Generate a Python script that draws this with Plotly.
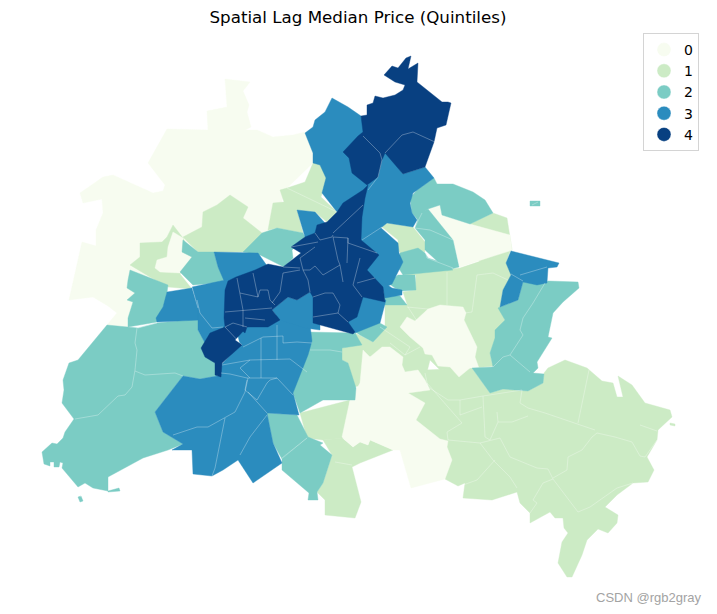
import plotly.graph_objects as go

# map outlines in picture units
# class 0 west goes first because everything else sits on top of it
WEST_ZONES = [
    [(225,79),(250,82),(243,91),(249,105),(247,112),(251,127),(245,130),(257,130),(273,137),(293,135),(305,132),
     (313,150),(313,163),(287,188),(270,232),(200,255),(135,290),(128,327),(107,325),(117,313),(108,306),(93,297),(69,300),
     (82,242),(96,246),(96,230),(103,213),(102,199),(83,203),(80,193),(103,177),(113,175),(153,193),(163,191),(165,185),
     (148,163),(167,129),(208,130),(207,111),(227,107)],
]
CLASS1_ZONES = [
    [(130,265),(140,257),(140,243),(162,242),(167,237),(173,225),(183,238),(192,257),(180,274),(192,289),(168,287),(150,277)],
    [(183,237),(202,227),(203,212),(217,205),(230,195),(248,207),(243,218),(262,233),(245,252),(198,252)],
    [(280,190),(287,188),(305,182),(313,163),(320,163),(327,178),(321,197),(337,212),(327,222),(315,212),(297,210),
     (303,233),(277,228),(268,230),(273,203),(284,202)],
    [(470,224),(493,213),(507,218),(512,250),(480,262),(460,240)],
    [(382,227),(387,223),(413,227),(425,242),(425,252),(417,250),(403,256),(398,250),(398,240)],
    # north-east block
    [(403,275),(460,268),(510,251),(506,263),(511,273),(510,278),(503,290),(500,307),(505,320),(495,332),(495,340),(490,353),
     (492,363),(495,366),(472,368),(440,370),(420,350),(408,307),(403,292),(415,290),(416,275)],
    # centre pieces
    [(385,303),(407,305),(428,309),(430,360),(425,380),(430,392),(408,393),(395,400),(378,355),(368,357),(360,348),(355,333),
     (373,342),(385,328)],
    [(342,348),(358,343),(366,350),(365,385),(353,387),(348,363),(342,360)],
    [(300,413),(350,400),(345,438),(323,440),(307,438)],
    [(332,455),(323,440),(342,438),(353,447),(360,442),(368,445),(370,440),(377,443),(393,450),(360,463),(352,467),(361,502),(355,518),
     (325,515),(325,500),(317,492),(323,483)],
    # south-east
    [(472,368),(490,393),(503,389),(528,391),(543,383),(544,373),(548,368),(565,360),(587,368),(602,381),(613,383),(617,397),
     (623,397),(618,376),(632,385),(645,403),(670,410),(672,417),(658,430),(657,440),(647,457),(654,470),(648,482),(633,483),
     (617,495),(605,507),(618,515),(617,523),(608,533),(598,529),(587,540),(582,555),(572,577),(567,577),(558,563),(562,542),
     (568,533),(564,528),(563,518),(555,518),(550,512),(530,523),(530,513),(520,503),(517,492),(492,500),(463,498),(465,483),
     (458,486),(445,479),(420,440),(400,390),(425,370)],
    [(670,423),(675,424),(675,426),(670,425)],
]
CLASS0_ZONES = [
    [(173,232),(183,238),(182,252),(192,257),(180,273),(160,272),(155,268),(157,260),(167,257),(168,247)],
    [(428,209),(440,205),(442,215),(470,224),(510,235),(512,250),(460,267),(453,240)],
    [(400,327),(407,317),(415,321),(428,309),(440,305),(463,307),(466,313),(464,320),(477,347),(475,357),(479,368),(470,368),
     (459,377),(450,367),(438,366),(432,355),(425,354),(423,348),(410,337)],
    [(363,350),(370,357),(382,347),(390,347),(403,357),(402,365),(405,372),(418,370),(425,380),(430,390),(408,393),(425,403),
     (416,420),(440,439),(448,441),(447,447),(452,460),(445,479),(411,488),(400,450),(393,450),(377,443),(370,440),(368,445),
     (360,442),(353,447),(342,437),(350,400),(360,383)],
]
CLASS2_ZONES = [
    [(130,270),(148,277),(168,285),(166,300),(157,322),(128,327),(128,318),(133,302),(127,300),(135,293),(127,288),(128,280)],
    [(243,252),(262,233),(277,228),(303,233),(305,237),(292,250),(293,258),(284,267),(260,255)],
    [(183,240),(182,252),(192,257),(180,272),(193,285),(215,283),(225,280),(218,267),(214,252),(198,252)],
    # south-west
    [(107,325),(78,360),(69,363),(63,380),(64,390),(62,403),(74,419),(65,432),(63,438),(57,444),(52,443),(42,452),(44,464),
     (50,466),(50,462),(54,462),(54,467),(59,467),(60,462),(63,463),(62,468),(72,480),(78,487),(85,483),(93,488),(108,491),
     (119,488),(120,491),(108,492),(108,477),(143,458),(168,450),(183,444),(163,432),
     (155,412),(183,376),(200,379),(217,376),(215,363),(202,350),(205,343),(198,330),(198,319),(157,323),(138,328)],
    [(78,497),(81,496),(83,501),(80,502)],
    [(307,332),(355,333),(362,345),(342,348),(342,360),(348,363),(356,388),(355,400),(323,400),(300,413),(293,393),(300,355),(300,335)],
    [(267,413),(297,415),(308,437),(282,459),(273,443)],
    [(308,437),(323,443),(320,445),(332,455),(323,483),(317,492),(318,500),(308,500),(309,493),(282,470),(282,459)],
    # north-east
    [(434,178),(437,184),(453,184),(473,192),(485,200),(493,213),(470,224),(442,215),(440,205),(428,209),(422,213),(418,220),
     (412,213),(410,198),(417,190)],
    [(415,228),(420,213),(428,209),(453,240),(459,267),(447,270),(425,250),(425,240)],
    [(398,267),(400,253),(418,248),(425,253),(428,258),(443,263),(453,270),(403,275)],
    [(388,283),(398,275),(415,275),(416,290),(402,291),(395,288)],
    [(380,293),(400,296),(407,305),(383,305)],
    [(350,328),(378,322),(387,327),(373,342),(360,335)],
    # east strip
    [(500,307),(518,300),(523,282),(545,283),(548,281),(578,282),(579,288),(563,302),(553,313),(548,337),(552,338),(537,362),
     (538,368),(533,373),(544,374),(543,383),(528,391),(503,389),(490,393),(472,368),(493,367),(490,353),(495,338),(495,330),
     (505,320),(498,308)],
    [(530,201),(540,201),(540,206),(530,206)],
]
CLASS3_ZONES = [
    [(297,210),(315,212),(325,223),(310,240),(305,237)],
    [(214,252),(258,253),(270,270),(240,282),(225,283),(218,267)],
    [(167,292),(192,288),(198,308),(205,320),(200,320),(157,322),(156,318),(163,307)],
    [(192,287),(235,278),(235,330),(217,332),(205,343),(198,330),(198,310)],
    # south centre
    [(221,365),(240,345),(235,322),(280,315),(310,325),(312,341),(308,355),(293,393),(299,415),(267,413),(273,443),(282,463),
     (253,483),(238,460),(223,470),(212,476),(193,474),(192,450),(172,450),(183,444),(163,432),(155,412),(183,376),(200,379),
     (217,376),(221,376)],
    [(272,310),(288,297),(297,300),(310,292),(320,297),(320,330),(305,328),(280,320)],
    # north-west of the tip
    [(332,98),(348,107),(361,116),(368,136),(352,150),(355,173),(370,185),(366,195),(343,208),(337,212),(322,193),
     (326,178),(320,165),(313,163),(313,153),(305,133),(313,127),(315,120),(325,112)],
    # north-east
    [(385,150),(403,174),(425,167),(434,178),(413,193),(410,203),(412,213),(417,220),(413,227),(387,223),(382,227),(360,242),
     (358,217),(362,198),(365,180),(378,160)],
    [(358,238),(380,227),(398,243),(399,253),(403,262),(400,268),(392,284),(380,290),(362,270),(375,255)],
    [(380,280),(392,288),(402,290),(402,295),(385,298)],
    [(358,295),(386,300),(380,323),(370,327),(355,333),(345,320)],
    # far east
    [(511,251),(559,263),(557,267),(548,268),(547,283),(537,285),(523,282),(518,300),(500,307),(503,290),(511,275),(506,263)],
]
CLASS4_ZONES = [
    # north
    [(411,56),(406,58),(398,68),(392,66),(384,75),(395,82),(405,85),(403,90),(395,95),(383,98),(375,96),(373,103),(367,105),
     (367,115),(361,116),(363,132),(358,136),(343,152),(349,158),(352,173),(367,185),(378,177),(382,160),(385,153),(403,174),
     (425,167),(434,142),(437,128),(446,125),(451,103),(448,102),(442,102),(417,82),(418,63),(408,69)],
    # centre
    [(368,185),(365,198),(362,217),(361,240),(379,255),(367,270),(383,287),(385,302),(363,297),(357,317),(348,322),(355,332),(353,334),
     (313,323),(313,297),(310,292),(297,300),(288,297),(272,310),(280,320),(268,327),(247,327),(245,333),(233,323),(225,327),
     (224,318),(225,290),(228,281),(236,277),(255,270),(268,264),(283,267),(301,253),(291,247),(305,237),(315,233),(317,225),
     (327,222),(337,212),(343,203),(363,190)],
    # south-west
    [(201,348),(210,333),(225,327),(233,323),(247,327),(235,340),(242,345),(222,363),(221,377),(215,375),(215,363),(205,357)],
]

# thin borders between neighbourhoods
BORDERS = [
    [(363,205),(333,233)], [(315,233),(320,240),(332,237),(333,235)], [(333,237),(348,238),(348,243),(377,253)],
    [(333,237),(338,260),(340,265),(343,282)], [(348,238),(347,263)], [(360,258),(353,285)], [(357,283),(375,278)],
    [(353,285),(362,297)], [(310,270),(315,266),(323,275),(340,265)],
    [(313,297),(325,293),(333,293),(340,305),(338,313),(313,317)], [(338,313),(348,322)],
    [(310,292),(308,280),(303,270),(310,270)], [(300,270),(283,273),(280,292),(272,303)],
    [(240,293),(258,297),(260,290),(268,290),(270,300),(275,305)], [(237,278),(243,310),(243,327)],
    [(253,273),(258,297)], [(225,312),(272,308)], [(245,318),(265,320)], [(225,327),(233,323),(247,327)],
    [(225,327),(242,345)], [(291,247),(318,242)], [(315,247),(300,258),(303,270)], [(283,267),(300,268)],
    [(137,328),(135,343),(137,350),(135,370),(132,387),(125,395),(118,396),(98,415),(75,419)],
    [(135,371),(145,375),(175,373),(183,376)], [(157,323),(138,328)],
    [(173,435),(197,427),(208,427),(235,412),(245,392),(248,378)], [(225,418),(215,468),(212,476)],
    [(267,415),(250,437),(240,455)], [(248,392),(257,402),(267,413)],
    [(247,380),(245,390),(257,400),(267,383),(270,380),(277,378),(293,395)],
    [(221,373),(230,374),(247,378),(277,378)], [(222,365),(250,360),(240,368),(250,378)], [(261,338),(261,378)],
    [(277,325),(277,360)], [(250,360),(290,359),(307,372)],
    [(243,347),(263,337),(283,336),(283,343),(297,342),(312,343)], [(310,350),(330,350),(342,352)],
    [(197,300),(200,313),(212,328),(223,327)], [(192,287),(198,308)], [(307,438),(282,458)], [(335,462),(352,465)],
    [(447,272),(447,305)], [(477,275),(472,312),(465,313)], [(477,275),(493,273),(508,280)], [(407,307),(428,309)],
    [(417,321),(408,307)],
    [(545,283),(533,303),(523,318),(520,330),(523,335),(510,355),(530,372)], [(510,355),(503,357),(493,367)],
    [(520,275),(547,267)], [(511,274),(523,281)], [(589,370),(578,423)],
    [(483,396),(522,390),(520,403),(528,408),(545,413),(595,430)],
    [(427,383),(462,423),(447,432),(448,440),(480,443),(500,438)],
    [(425,373),(428,387),(448,400),(460,400),(483,396),(485,437),(490,440)],
    [(500,438),(510,457),(537,468),(548,469),(553,479),(578,512),(590,507),(617,488),(633,483)],
    [(553,478),(567,470),(568,457),(582,450),(592,437),(597,433),(615,437),(632,442),(640,456),(645,457),(657,440)],
    [(553,479),(543,483),(533,500),(537,503),(530,513)], [(480,443),(493,460),(510,477),(517,488)],
    [(495,460),(477,480),(463,485)], [(497,412),(498,422),(512,422),(528,416)], [(498,422),(490,440)],
    [(460,400),(460,415),(482,407)], [(640,425),(657,431)],
    [(380,327),(410,347),(405,355),(420,347)], [(390,343),(405,355)],
    [(287,188),(337,212)],
    [(363,136),(380,153),(382,160),(378,177),(368,190)], [(413,132),(435,142)], [(413,132),(402,135),(385,153)],
    [(362,240),(382,227)], [(422,213),(415,227)], [(415,228),(430,230),(453,240)], [(425,250),(427,258),(453,268)],
    [(532,205),(538,202)], [(91,487),(80,497)],
]

CLASSES = ["0", "1", "2", "3", "4"]
COLORS = ["#f7fcf0", "#ccebc5", "#7bccc4", "#2b8cbe", "#084081"]
TITLE = "Spatial Lag Median Price (Quintiles)"
WATERMARK = "CSDN @rgb2gray"

# the page body sits 8px in, so the figure is 8px smaller and the axes start at 8
PAGE_INSET = 8
FIG_W = 717 - PAGE_INSET
FIG_H = 614 - PAGE_INSET


def paper_x(px):
    return (px - PAGE_INSET) / FIG_W


def paper_y(py):
    return 1 - (py - PAGE_INSET) / FIG_H


fig = go.Figure()

# painter's order, the higher classes cover the rough edges of the lower ones
for rings, klass in [(WEST_ZONES, 0), (CLASS1_ZONES, 1), (CLASS0_ZONES, 0),
                     (CLASS2_ZONES, 2), (CLASS3_ZONES, 3), (CLASS4_ZONES, 4)]:
    for ring in rings:
        fig.add_trace(go.Scatter(x=[p[0] for p in ring] + [ring[0][0]], y=[p[1] for p in ring] + [ring[0][1]],
                                 mode="lines", fill="toself", fillcolor=COLORS[klass],
                                 line=dict(color=COLORS[klass], width=0.4), hoverinfo="skip", showlegend=False))

for border in BORDERS:
    fig.add_trace(go.Scatter(x=[p[0] for p in border], y=[p[1] for p in border], mode="lines",
                             line=dict(color="rgba(255,255,255,0.5)", width=0.6),
                             hoverinfo="skip", showlegend=False))

# legend only traces
for name, color in zip(CLASSES, COLORS):
    fig.add_trace(go.Scatter(x=[None], y=[None], mode="markers", name=name,
                             marker=dict(size=14, color=color, line=dict(color="#ffffff", width=0.4))))

fig.update_layout(
    width=FIG_W, height=FIG_H,
    margin=dict(l=0, r=0, t=0, b=0),
    paper_bgcolor="white", plot_bgcolor="white",
    font=dict(family="DejaVu Sans", color="black"),
    title=dict(text=TITLE, x=paper_x(358), xanchor="center", y=paper_y(17), yanchor="middle", font=dict(size=16.7)),
    xaxis=dict(range=[PAGE_INSET, 717], visible=False, fixedrange=True),
    yaxis=dict(range=[614, PAGE_INSET], visible=False, fixedrange=True),
    legend=dict(x=paper_x(643), y=paper_y(33), xanchor="left", yanchor="top", bgcolor="white",
                bordercolor="#d4d4d4", borderwidth=1, font=dict(size=14), tracegroupgap=0, itemwidth=30),
    annotations=[dict(text=WATERMARK, x=paper_x(703), y=paper_y(597), xref="paper", yref="paper",
                      xanchor="right", yanchor="middle", showarrow=False,
                      font=dict(family="Liberation Sans", size=13, color="#a3a3a3"))],
)

fig.write_html("out.html")
